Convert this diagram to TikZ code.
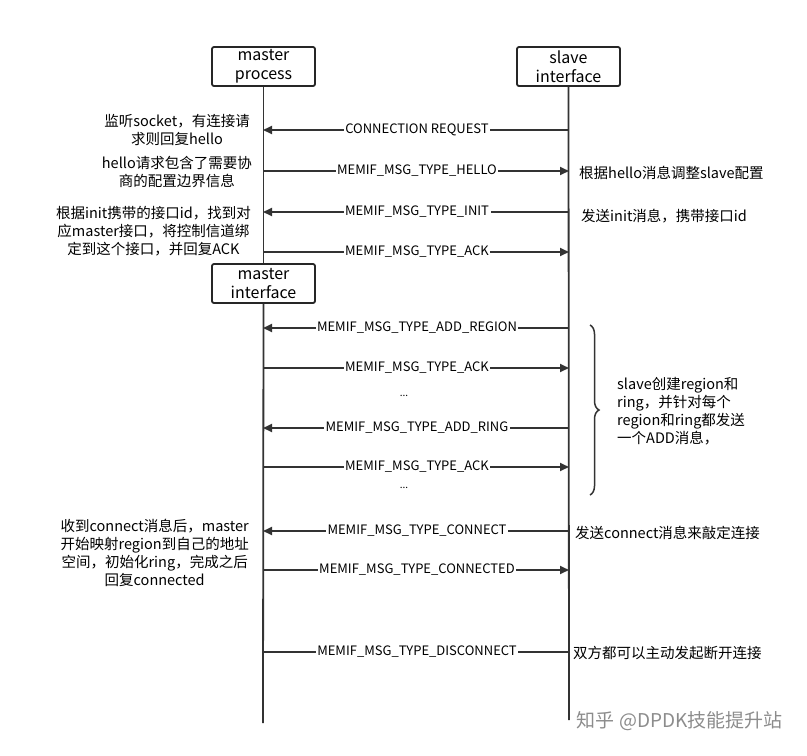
\documentclass[tikz,border=0pt]{standalone}
\usepackage{fontspec}
\setmainfont{Noto Sans CJK SC}
\usetikzlibrary{arrows.meta,decorations.pathreplacing}
\begin{document}
\begin{tikzpicture}[x=1pt,y=-1pt,
  box/.style={draw,line width=1.8pt,draw=black!85,rounded corners=2pt,minimum width=103pt,minimum height=39pt,inner sep=0pt,align=center,font=\fontsize{16}{19}\selectfont},
  msg/.style={fill=white,inner sep=1.5pt,font=\fontsize{13}{14}\selectfont},
  note/.style={align=center,font=\fontsize{14.5}{18}\selectfont,inner sep=0pt},
  ln/.style={line width=1.8pt,draw=black!80},
  ar/.style={ln,-{Triangle[length=9pt,width=8pt]}}]
\useasboundingbox (0,0) rectangle (807,756);
\node[box] (mp) at (263.5,66.5) {master\\process};
\node[box] (si) at (568.5,66.5) {slave\\interface};
\node[box] (mi) at (263.5,283.5) {master\\interface};
\coordinate (mend) at (263,723);
\coordinate (send) at (569,720);
\draw[ln] (mp.south) -- (mi.north);
\draw[ln] (mi.south) -- (mend);
\draw[ln] (si.south) -- (send);
\foreach \y/\t/\d in {130/CONNECTION REQUEST/l,171/MEMIF\_MSG\_TYPE\_HELLO/r,212/MEMIF\_MSG\_TYPE\_INIT/l,252/MEMIF\_MSG\_TYPE\_ACK/r,328/MEMIF\_MSG\_TYPE\_ADD\_REGION/l,368/MEMIF\_MSG\_TYPE\_ACK/r,428/MEMIF\_MSG\_TYPE\_ADD\_RING/l,467/MEMIF\_MSG\_TYPE\_ACK/r,531/MEMIF\_MSG\_TYPE\_CONNECT/l,570/MEMIF\_MSG\_TYPE\_CONNECTED/r,652/MEMIF\_MSG\_TYPE\_DISCONNECT/n}{
  \coordinate (L\y) at (263,\y); \coordinate (R\y) at (569,\y);
  \if\d l \draw[ar] (R\y) -- (L\y);\fi
  \if\d r \draw[ar] (L\y) -- (R\y);\fi
  \if\d n \draw[ln] (L\y) -- (R\y);\fi
  \node[msg] (m\y) at (417,\y) {\t};
}
\node[msg,font=\fontsize{10}{10}\selectfont] (d1) at (404,396) {...};
\node[msg,font=\fontsize{10}{10}\selectfont] (d2) at (404,488) {...};
\node[note,anchor=east] (n1) at (250,130) {监听socket，有连接请\\求则回复hello};
\node[note,anchor=east] (n2) at (252,172) {hello请求包含了需要协\\商的配置边界信息};
\node[note,anchor=east] (n3) at (251,231) {根据init携带的接口id，找到对\\应master接口，将控制信道绑\\定到这个接口，并回复ACK};
\node[note,anchor=east] (n4) at (249,553) {收到connect消息后，master\\开始映射region到自己的地址\\空间，初始化ring，完成之后\\回复connected};
\node[note,anchor=west] (r1) at (579,173) {根据hello消息调整slave配置};
\node[note,anchor=west] (r2) at (581,216) {发送init消息，携带接口id};
\node[note,anchor=west] (r3) at (575,533) {发送connect消息来敲定连接};
\node[note,anchor=west] (r4) at (573,653) {双方都可以主动发起断开连接};
\node[note,anchor=west,align=left] (r5) at (617,411) {slave创建region和\\ring，并针对每个\\region和ring都发送\\一个ADD消息，};
\coordinate (bt) at (590,325); \coordinate (bb) at (590,495);
\draw[line width=1.5pt,draw=black!80,decorate,decoration={brace,amplitude=9pt,aspect=0.5}] (bt) -- (bb);
\node[font=\fontsize{19}{22}\selectfont,text=black!45,anchor=east] (wm) at (786,721) {知乎 @DPDK技能提升站};
\end{tikzpicture}
\end{document}
